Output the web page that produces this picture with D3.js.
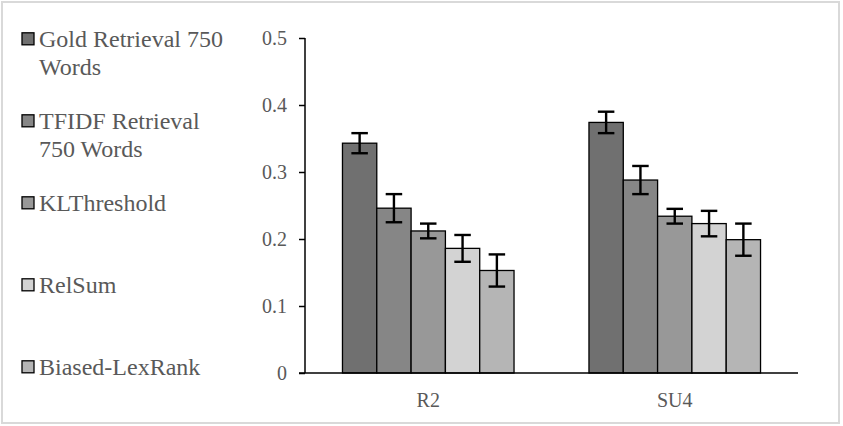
<!DOCTYPE html>
<html>
<head>
<meta charset="utf-8">
<script src="https://cdn.jsdelivr.net/npm/d3@7"></script>
<style>
  html, body { margin: 0; padding: 0; background: #fff; }
  svg { display: block; }
  text { font-family: "Liberation Serif", "Times New Roman", serif; fill: #595959; }
</style>
</head>
<body>
<svg id="chart" width="843" height="426"></svg>
<script>
// chart values
var categories = ['R2', 'SU4'];
var seriesNames = ['Gold Retrieval 750 Words', 'TFIDF Retrieval 750 Words', 'KLThreshold', 'RelSum', 'Biased-LexRank'];
var legendLines = [['Gold Retrieval 750', 'Words'], ['TFIDF Retrieval', '750 Words'], ['KLThreshold'], ['RelSum'], ['Biased-LexRank']];
var r2Values = [0.343, 0.246, 0.212, 0.186, 0.153];
var r2Errors = [0.015, 0.021, 0.011, 0.020, 0.024];
var su4Values = [0.374, 0.288, 0.234, 0.223, 0.199];
var su4Errors = [0.016, 0.021, 0.011, 0.019, 0.024];
var yTicks = [0, 0.1, 0.2, 0.3, 0.4, 0.5];

var colors = ['#707070', '#868686', '#989898', '#d3d3d3', '#b5b5b5'];

var rows = [
    { cat: 'R2', values: r2Values, errors: r2Errors },
    { cat: 'SU4', values: su4Values, errors: su4Errors }
];

var svg = d3.select('#chart');

// outer frame
svg.append('rect')
    .attr('x', 2).attr('y', 2)
    .attr('width', 837).attr('height', 421)
    .attr('fill', '#fff')
    .attr('stroke', '#d9d9d9')
    .attr('stroke-width', 2);

var plotLeft = 305, plotRight = 798, plotTop = 38, plotBottom = 373;

var y = d3.scaleLinear().domain([0, 0.5]).range([plotBottom, plotTop]);
var x0 = d3.scaleBand().domain(categories).range([plotLeft, plotRight]);
var groupW = x0.bandwidth() * 0.696;
var x1 = d3.scaleBand().domain(seriesNames)
    .range([(x0.bandwidth() - groupW) / 2, (x0.bandwidth() + groupW) / 2]);

// bars
var groups = svg.append('g').selectAll('g')
    .data(rows)
    .enter().append('g')
    .attr('transform', function(d) { return 'translate(' + x0(d.cat) + ',0)'; });

groups.selectAll('rect')
    .data(function(d) {
        return seriesNames.map(function(s, i) {
            return { name: s, i: i, v: d.values[i], e: d.errors[i] };
        });
    })
    .enter().append('rect')
    .attr('x', function(d) { return x1(d.name); })
    .attr('y', function(d) { return y(d.v); })
    .attr('width', x1.bandwidth())
    .attr('height', function(d) { return y(0) - y(d.v); })
    .attr('fill', function(d) { return colors[d.i]; })
    .attr('stroke', '#000')
    .attr('stroke-width', 1.3);

// error bars
var capW = 16.5;
var err = groups.selectAll('g.err')
    .data(function(d) {
        return seriesNames.map(function(s, i) {
            return { name: s, v: d.values[i], e: d.errors[i] };
        });
    })
    .enter().append('g').attr('class', 'err')
    .attr('stroke', '#000')
    .attr('stroke-width', 2.4);

err.append('line')
    .attr('x1', function(d) { return x1(d.name) + x1.bandwidth() / 2; })
    .attr('x2', function(d) { return x1(d.name) + x1.bandwidth() / 2; })
    .attr('y1', function(d) { return y(d.v + d.e); })
    .attr('y2', function(d) { return y(d.v - d.e); });
err.append('line')
    .attr('x1', function(d) { return x1(d.name) + x1.bandwidth() / 2 - capW / 2; })
    .attr('x2', function(d) { return x1(d.name) + x1.bandwidth() / 2 + capW / 2; })
    .attr('y1', function(d) { return y(d.v + d.e); })
    .attr('y2', function(d) { return y(d.v + d.e); });
err.append('line')
    .attr('x1', function(d) { return x1(d.name) + x1.bandwidth() / 2 - capW / 2; })
    .attr('x2', function(d) { return x1(d.name) + x1.bandwidth() / 2 + capW / 2; })
    .attr('y1', function(d) { return y(d.v - d.e); })
    .attr('y2', function(d) { return y(d.v - d.e); });

// y axis
var yAxis = svg.append('g')
    .attr('transform', 'translate(' + plotLeft + ',0)')
    .call(d3.axisLeft(y).tickValues(yTicks).tickSize(6).tickPadding(12)
        .tickFormat(function(d) { return d === 0 ? '0' : d3.format('.1f')(d); }));
yAxis.select('.domain').attr('stroke', '#000').attr('stroke-width', 1.5)
    .attr('d', 'M0,' + plotTop + 'V' + plotBottom);
yAxis.selectAll('.tick line').attr('stroke', '#000').attr('stroke-width', 1.5);
yAxis.selectAll('.tick text')
    .style('font-family', '"Liberation Serif", "Times New Roman", serif')
    .style('font-size', '20px')
    .attr('fill', '#595959');

// x axis
var xAxis = svg.append('g')
    .attr('transform', 'translate(0,' + plotBottom + ')')
    .call(d3.axisBottom(x0).tickSize(0).tickPadding(20));
xAxis.select('.domain').attr('stroke', '#000').attr('stroke-width', 1.5)
    .attr('d', 'M' + (plotLeft - 6) + ',0H' + plotRight);
xAxis.selectAll('.tick text')
    .style('font-family', '"Liberation Serif", "Times New Roman", serif')
    .style('font-size', '20px')
    .attr('fill', '#595959');

// legend
var legend = svg.append('g').selectAll('g')
    .data(legendLines)
    .enter().append('g')
    .attr('transform', function(d, i) { return 'translate(0,' + (47.3 + i * 82) + ')'; });

legend.append('rect')
    .attr('x', 22).attr('y', -14.5)
    .attr('width', 12).attr('height', 12)
    .attr('fill', function(d, i) { return colors[i]; })
    .attr('stroke', '#000')
    .attr('stroke-width', 1.3);

legend.append('text')
    .attr('x', 39)
    .style('font-size', '24px')
    .selectAll('tspan')
    .data(function(d) { return d; })
    .enter().append('tspan')
    .attr('x', 39)
    .attr('y', function(d, i) { return i * 27.5; })
    .text(function(d) { return d; });
</script>
</body>
</html>
